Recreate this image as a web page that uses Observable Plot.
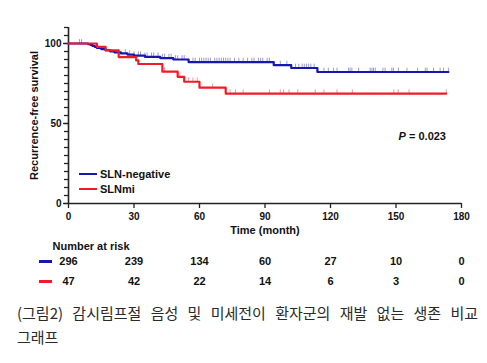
<!DOCTYPE html>
<html><head><meta charset="utf-8">
<script src="https://cdn.jsdelivr.net/npm/d3@7"></script>
<script src="https://cdn.jsdelivr.net/npm/@observablehq/plot@0.6"></script>
<style>
body{margin:0;background:#fff;}
#wrap{position:relative;width:487px;height:363px;font-family:'Liberation Sans',Arial,sans-serif;}
.abs{position:absolute;}
.b{font-weight:bold;font-size:11px;color:#111;white-space:nowrap;}
</style></head><body><div id="wrap"></div>
<script>
// ---- data ----
const groups = ["SLN-negative", "SLNmi"];
const colors = ["#1616b0", "#ee1c24"];
const tickColors = ["#9a9ae0", "#f29a9e"];
const blueTime = [0, 9, 10, 11, 12, 13, 15, 17, 19, 21, 24, 27, 30, 35, 42, 48, 55, 94, 102, 114, 174];
const blueSurv = [100, 99.6, 99.2, 98.5, 97.9, 97.2, 96.5, 95.8, 95.1, 94.5, 93.8, 93.1, 92.4, 91.7, 90.9, 90.0, 88.4, 86.5, 84.7, 82.2, 82.2];
const redTime = [0, 13, 17, 23, 31, 32, 43, 50, 53, 60, 72, 173];
const redSurv = [100, 97.9, 95.7, 91.5, 89.4, 87.2, 82.4, 79.2, 76.1, 72.4, 68.7, 68.7];
const blueCensor = [5, 6, 26, 28, 30, 32, 33, 35, 36, 38, 39, 41, 43, 44, 46, 47, 49, 50, 52, 53, 57, 58, 60, 61, 62, 63, 64, 65, 67, 68, 69, 70, 71, 72, 73, 74, 76, 78, 80, 82, 84, 85, 87, 88, 89, 91, 92, 97, 100, 104, 105.5, 107, 108, 109, 110, 111, 112.5, 117, 119, 121.4, 123, 128.3, 129, 129.8, 132.9, 138.2, 139, 139.7, 140.5, 144, 145, 148.1, 148.8, 151.1, 155, 159.9, 163.4, 164.2, 167.2, 170.2, 171.8, 174];
const redCensor = [44, 51, 55, 57, 59, 66, 74, 76.5, 80, 92, 97, 98.5, 101, 105, 113, 117, 123, 130, 149, 151, 156, 173];
const riskTimes = [0, 30, 60, 90, 120, 150, 180];
const riskBlue = [296, 239, 134, 60, 27, 10, 0];
const riskRed = [47, 42, 22, 14, 6, 3, 0];
const xTicks = [0, 30, 60, 90, 120, 150, 180];
const yTicks = [0, 50, 100];
const pText = "0.023";
const caption = "(그림2) 감시림프절 음성 및 미세전이 환자군의 재발 없는 생존 비교 그래프";

// ---- build tables ----
const curve = [];
blueTime.forEach((t, i) => curve.push({t, s: blueSurv[i], g: groups[0]}));
redTime.forEach((t, i) => curve.push({t, s: redSurv[i], g: groups[1]}));
function survAt(times, surv, t) { let v = surv[0]; for (let i = 0; i < times.length; i++) if (times[i] <= t) v = surv[i]; return v; }
const censor = [];
blueCensor.forEach(t => censor.push({t, s: survAt(blueTime, blueSurv, t), g: groups[0]}));
redCensor.forEach(t => censor.push({t, s: survAt(redTime, redSurv, t), g: groups[1]}));
const risk = [];
riskTimes.forEach((t, i) => { risk.push({t, n: riskBlue[i], g: groups[0]}); risk.push({t, n: riskRed[i], g: groups[1]}); });

const font = "'Liberation Sans', Arial, sans-serif";
const wrap = document.getElementById("wrap");

const p1 = Plot.plot({
  width: 487, height: 240, marginLeft: 68, marginRight: 26, marginTop: 27, marginBottom: 37,
  style: {fontFamily: font, fontWeight: "bold", fontSize: "10px", color: "#111", background: "transparent", overflow: "visible"},
  x: {domain: [0, 180]},
  y: {domain: [0, 110]},
  color: {domain: groups, range: colors},
  marks: [
    Plot.axisY({ticks: d3.range(0, 111, 5), tickSize: 4, tickFormat: () => "", label: null, strokeWidth: 1.3, stroke: "#222"}),
    Plot.axisY({ticks: yTicks, tickSize: 5, tickPadding: 2, label: null, strokeWidth: 1.3, stroke: "#222", fill: "#111"}),
    Plot.axisX({ticks: xTicks, tickSize: 5, tickPadding: 4, label: null, strokeWidth: 1.3, stroke: "#222", fill: "#111"}),
    Plot.ruleX([0], {stroke: "#222", strokeWidth: 1.6}),
    Plot.ruleY([0], {stroke: "#222", strokeWidth: 1.6}),
    Plot.text(["Recurrence-free survival"], {frameAnchor: "left", textAnchor: "middle", rotate: -90, dx: -34, fontSize: 11, fontWeight: "bold", fill: "#111"}),
    Plot.text(["Time (month)"], {frameAnchor: "bottom", dy: 30, fontSize: 11, fontWeight: "bold", fill: "#111"}),
    Plot.ruleX(censor, {x: "t", y1: d => d.s - 0.6, y2: d => d.s + 2.4, stroke: d => tickColors[groups.indexOf(d.g)], strokeWidth: 1}),
    Plot.line(curve, {x: "t", y: "s", z: "g", stroke: "g", curve: "step-after", strokeWidth: 2.2})
  ]
});
p1.style.position = "absolute"; p1.style.left = "0px"; p1.style.top = "0px";
wrap.appendChild(p1);

const p2 = Plot.plot({
  width: 487, height: 40, marginLeft: 68, marginRight: 26, marginTop: 0, marginBottom: 0,
  style: {fontFamily: font, fontWeight: "bold", fontSize: "11px", color: "#111", background: "transparent", overflow: "visible"},
  x: {domain: [0, 180], axis: null},
  y: {type: "point", domain: groups, range: [9, 29], padding: 0, axis: null},
  marks: [
    Plot.text(risk, {x: "t", y: "g", text: "n", fontSize: 11, fontWeight: "bold", fill: "#111"})
  ]
});
p2.style.position = "absolute"; p2.style.left = "0px"; p2.style.top = "252px";
wrap.appendChild(p2);

function add(html, css, cls) { const d = document.createElement("div"); d.className = "abs " + (cls || ""); d.innerHTML = html; Object.assign(d.style, css); wrap.appendChild(d); return d; }
// legend inside plot
groups.forEach((g, i) => {
  const y = [174, 189][i];
  add("", {left: "79px", top: (y - 1.2) + "px", width: "18px", height: "2.6px", background: colors[i]});
  add(g, {left: "100px", top: (y - 7) + "px", lineHeight: "14px"}, "b");
  // risk table swatches
  const yr = [261, 281][i];
  add("", {left: "39px", top: (yr - 1.5) + "px", width: "13px", height: "3px", background: colors[i]});
});
add("<i>P</i> = " + pText, {right: (487 - 446) + "px", top: "129px", lineHeight: "14px"}, "b");
add("Number at risk", {left: "52.5px", top: "239px", lineHeight: "14px"}, "b");
add(caption, {left: "17px", top: "301px", width: "461px", fontFamily: "'Noto Sans CJK KR','Noto Sans',sans-serif", fontSize: "15px", lineHeight: "24px", wordSpacing: "4px", textAlign: "justify", textAlignLast: "left", color: "#2a2a2a"});
</script></body></html>
